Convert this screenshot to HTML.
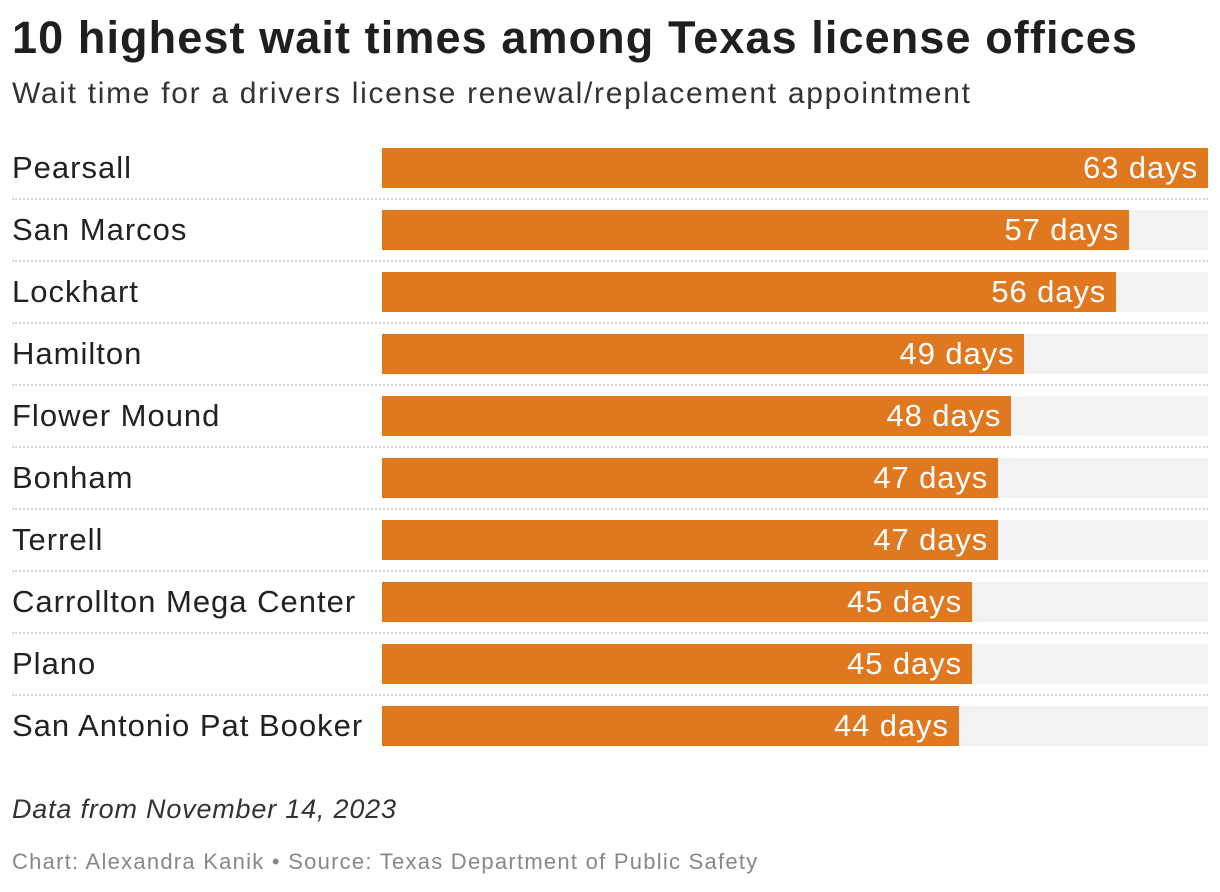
<!DOCTYPE html>
<html><head><meta charset="utf-8"><style>
body{margin:0;width:1220px;height:892px;background:#fff;font-family:"Liberation Sans",sans-serif;overflow:hidden;position:relative}
.t{position:absolute;left:12px;top:12px;font-size:45px;font-weight:bold;color:#1f1f1f;letter-spacing:1.1px}
.s{position:absolute;left:12px;top:77px;font-size:30px;color:#333;letter-spacing:1.7px}
.lab{position:absolute;left:12px;font-size:31px;color:#222;line-height:40px;letter-spacing:1px}
.trk{position:absolute;left:382px;width:826px;height:40px;background:#f2f2f2}
.bar{position:absolute;left:382px;height:40px;background:#e07820}
.val{position:absolute;font-size:31px;color:#fff;line-height:40px;text-align:right;letter-spacing:0.9px}
.sep{position:absolute;left:12px;width:1196px;border-top:2px dotted #d6d6d6;height:0}
.n{position:absolute;left:12px;top:794px;font-size:27px;font-style:italic;color:#333;letter-spacing:0.8px}
.c{position:absolute;left:12px;top:849px;font-size:22px;color:#888;letter-spacing:1.25px}
</style></head><body>
<div class="t">10 highest wait times among Texas license offices</div>
<div class="s">Wait time for a drivers license renewal/replacement appointment</div>
<div id="chart"></div>
<div class="n">Data from November 14, 2023</div>
<div class="c">Chart: Alexandra Kanik • Source: Texas Department of Public Safety</div>
<script>
const categories=["Pearsall","San Marcos","Lockhart","Hamilton","Flower Mound","Bonham","Terrell","Carrollton Mega Center","Plano","San Antonio Pat Booker"];
const values=[63,57,56,49,48,47,47,45,45,44];
const maxValue=63;
const c=document.getElementById('chart');
function x(v){return 826*v/maxValue;}
function y(i){return 148+62*i;}
categories.forEach((name,i)=>{
  const top=y(i);
  const l=document.createElement('div');l.className='lab';l.style.top=top+'px';l.textContent=name;
  
  
  c.appendChild(l);
  const t=document.createElement('div');t.className='trk';t.style.top=top+'px';
  
  
  c.appendChild(t);
  const w=x(values[i]);
  const b=document.createElement('div');b.className='bar';b.style.top=top+'px';b.style.width=w+'px';
  
  
  c.appendChild(b);
  const v=document.createElement('div');v.className='val';v.style.top=top+'px';v.style.left=(382+w-210)+'px';v.style.width='200px';v.textContent=values[i]+' days';
  
  
  c.appendChild(v);
  if(i<categories.length-1){
    const s=document.createElement('div');s.className='sep';s.style.top=(top+50)+'px';
    
    
    c.appendChild(s);
  }
});
</script>
</body></html>
